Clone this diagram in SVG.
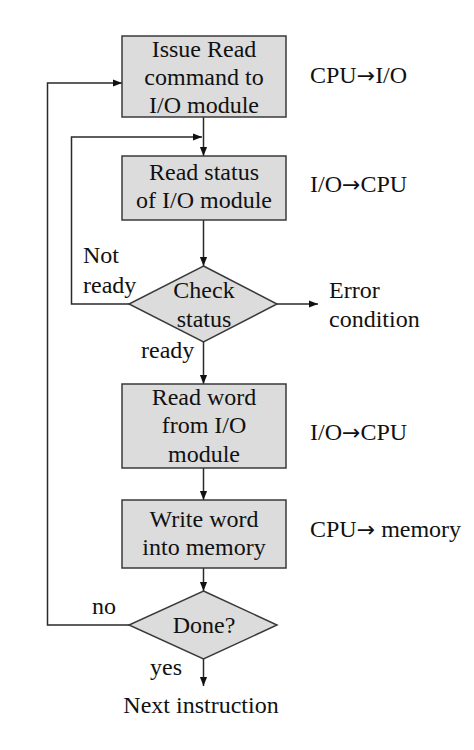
<svg xmlns="http://www.w3.org/2000/svg" width="474" height="750" viewBox="0 0 474 750">
<style>
.box{fill:#dcdcdc;stroke:#3a3a3a;stroke-width:1.5}
.ln{fill:none;stroke:#2a2a2a;stroke-width:1.5}
text{font-family:'Liberation Serif','DejaVu Serif',serif;font-size:24px;fill:#111}
.c{text-anchor:middle}
.ar{font-family:'DejaVu Sans',sans-serif;font-size:22px}
</style>
<defs>
<marker id="ah" viewBox="0 0 10 10" refX="10" refY="5" markerWidth="9" markerHeight="9" markerUnits="userSpaceOnUse" orient="auto">
<path d="M0,1 L10,5 L0,9 Z" fill="#111"/>
</marker>
</defs>
<rect width="474" height="750" fill="#fff"/>
<g id="connectors">
<line class="ln" x1="203.5" y1="117" x2="203.5" y2="156" marker-end="url(#ah)"/>
<line class="ln" x1="203.5" y1="220" x2="203.5" y2="266" marker-end="url(#ah)"/>
<line class="ln" x1="203.5" y1="342" x2="203.5" y2="384" marker-end="url(#ah)"/>
<line class="ln" x1="203.5" y1="468" x2="203.5" y2="500" marker-end="url(#ah)"/>
<line class="ln" x1="203.5" y1="568" x2="203.5" y2="591" marker-end="url(#ah)"/>
<line class="ln" x1="203.5" y1="659" x2="203.5" y2="686" marker-end="url(#ah)"/>
<polyline class="ln" points="129,304 71.5,304 71.5,137 202,137" marker-end="url(#ah)"/>
<polyline class="ln" points="129,625 47.5,625 47.5,83 122,83" marker-end="url(#ah)"/>
<line class="ln" x1="277" y1="304" x2="318" y2="304" marker-end="url(#ah)"/>
</g>
<g id="n1"><rect class="box" x="122" y="36" width="164" height="81"/>
<text class="c" x="204" y="57">Issue Read</text><text class="c" x="204" y="85">command to</text><text class="c" x="204" y="113">I/O module</text></g>
<g id="n2"><rect class="box" x="122" y="156" width="164" height="64"/>
<text class="c" x="204" y="180">Read status</text><text class="c" x="204" y="208">of I/O module</text></g>
<g id="n3"><polygon class="box" points="203.5,266 277,304 203.5,342 129,304"/>
<text class="c" x="204" y="298">Check</text><text class="c" x="204" y="327">status</text></g>
<g id="n4"><rect class="box" x="122" y="384" width="164" height="84"/>
<text class="c" x="204" y="405">Read word</text><text class="c" x="204" y="433">from I/O</text><text class="c" x="204" y="462">module</text></g>
<g id="n5"><rect class="box" x="122" y="500" width="164" height="68"/>
<text class="c" x="204" y="527">Write word</text><text class="c" x="204" y="555">into memory</text></g>
<g id="n6"><polygon class="box" points="203.5,591 277,625 203.5,659 129,625"/>
<text class="c" x="204" y="633">Done?</text></g>
<g id="labels">
<text x="83" y="263">Not</text><text x="83" y="293">ready</text>
<text x="141" y="358">ready</text>
<text x="92" y="614">no</text>
<text x="150" y="675">yes</text>
<text class="c" x="201" y="713">Next instruction</text>
<text x="329" y="298">Error</text><text x="329" y="327">condition</text>
<text x="310" y="83">CPU<tspan class="ar">→</tspan>I/O</text>
<text x="310" y="192">I/O<tspan class="ar">→</tspan>CPU</text>
<text x="310" y="440">I/O<tspan class="ar">→</tspan>CPU</text>
<text x="310" y="537">CPU<tspan class="ar">→</tspan> memory</text>
</g>
</svg>
